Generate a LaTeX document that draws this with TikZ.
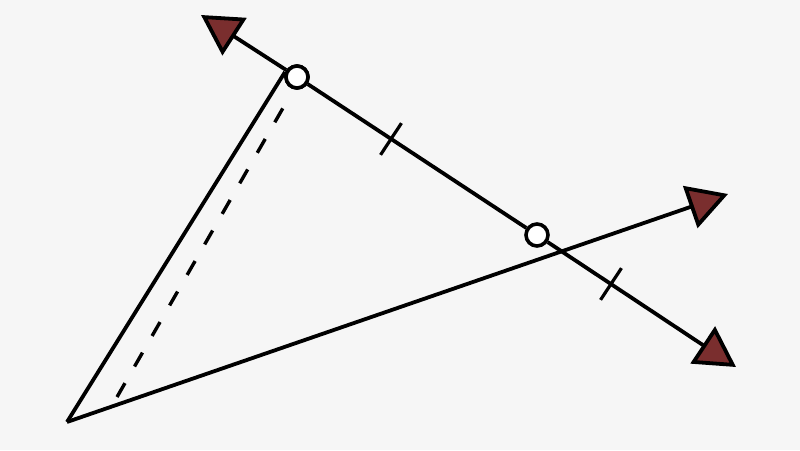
\documentclass[tikz,border=0pt]{standalone}
\usetikzlibrary{arrows.meta,calc}
\definecolor{bg}{RGB}{246,246,246}
\definecolor{arrowred}{RGB}{122,46,46}
\begin{document}
\begin{tikzpicture}[x=1pt,y=-1pt,
  seg/.style={line width=3.8pt, black},
  ray/.style={seg, -{Triangle[length=40pt,width=44pt,fill=arrowred]}},
  pointmark/.style={circle, draw, fill=white, line width=3.6pt, minimum size=22pt, inner sep=0pt},
  hashmark/.style={line width=3.2pt},
  altitude/.style={seg, line width=3.4pt, dash pattern=on 16pt off 19.2pt}]
\fill[bg] (0,0) rectangle (800,450);
\useasboundingbox (0,0) rectangle (800,450);
\coordinate (A) at (67,422);
\coordinate (T) at (285,72);
\coordinate (P1) at (201,15);
\coordinate (P2) at (736,367);
\coordinate (Q) at (728,194);
\coordinate (D1) at (117,397);
\coordinate (D2) at (283,108);
\coordinate (K1) at (391,139);
\coordinate (K2) at (611,284);
\node[pointmark] (B) at (297,77) {};
\node[pointmark] (C) at (537,235) {};
\draw[seg] (A) -- (T);
\draw[altitude] (D1) -- (D2);
\draw[ray] (A) -- (Q);
\draw[ray] (B) -- (P1);
\draw[seg] (B) -- (C);
\draw[ray] (C) -- (P2);
\draw[hashmark] ($(K1)!19pt!90:(B)$) -- ($(K1)!19pt!-90:(B)$);
\draw[hashmark] ($(K2)!19pt!90:(B)$) -- ($(K2)!19pt!-90:(B)$);
\node[pointmark] at (B) {};
\end{tikzpicture}
\end{document}
